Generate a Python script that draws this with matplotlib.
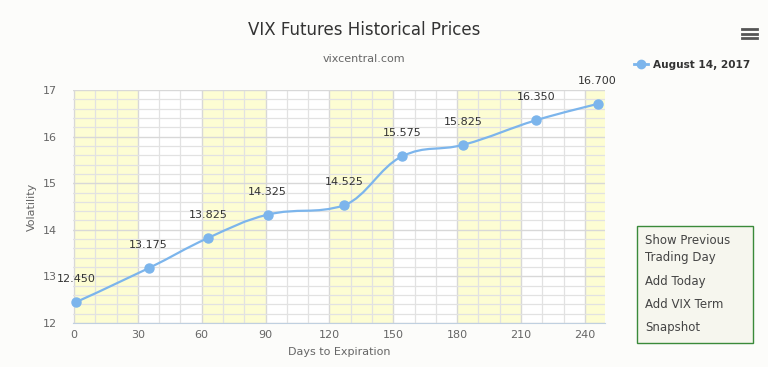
import matplotlib.pyplot as plt
import numpy as np
from matplotlib.path import Path
from matplotlib.patches import PathPatch, FancyBboxPatch

# data
days = [1, 35, 63, 91, 127, 154, 183, 217, 246]
prices = [12.450, 13.175, 13.825, 14.325, 14.525, 15.575, 15.825, 16.350, 16.700]
price_labels = ["12.450", "13.175", "13.825", "14.325", "14.525",
                "15.575", "15.825", "16.350", "16.700"]
series_name = "August 14, 2017"
bands = [(0, 30), (60, 90), (120, 150), (180, 210), (240, 250)]
menu_items = ["Show Previous\nTrading Day", "Add Today", "Add VIX Term", "Snapshot"]

LINE = '#7cb5ec'
TXT = '#333333'
GRAY = '#666666'


def spline_path(xs, ys, smoothing=1.5):
  """
  Bezier path through the points, same rule as a highcharts spline.
  """
  n = len(xs)
  denom = smoothing + 1
  left = [None] * n
  right = [None] * n
  for i in range(1, n - 1):
    x, y = xs[i], ys[i]
    lx = (smoothing * x + xs[i - 1]) / denom
    ly = (smoothing * y + ys[i - 1]) / denom
    rx = (smoothing * x + xs[i + 1]) / denom
    ry = (smoothing * y + ys[i + 1]) / denom
    corr = ((ry - ly) * (rx - x)) / (rx - lx) + y - ry
    ly += corr
    ry += corr
    if ly > ys[i - 1] and ly > y:
      ly = max(ys[i - 1], y)
      ry = 2 * y - ly
    elif ly < ys[i - 1] and ly < y:
      ly = min(ys[i - 1], y)
      ry = 2 * y - ly
    if ry > ys[i + 1] and ry > y:
      ry = max(ys[i + 1], y)
      ly = 2 * y - ry
    elif ry < ys[i + 1] and ry < y:
      ry = min(ys[i + 1], y)
      ly = 2 * y - ry
    left[i] = (lx, ly)
    right[i] = (rx, ry)

  verts = [(xs[0], ys[0])]
  codes = [Path.MOVETO]
  for i in range(1, n):
    c1 = right[i - 1] if right[i - 1] else (xs[i - 1], ys[i - 1])
    c2 = left[i] if left[i] else (xs[i], ys[i])
    verts += [c1, c2, (xs[i], ys[i])]
    codes += [Path.CURVE4] * 3
  return Path(verts, codes)


fig = plt.figure(figsize=(7.68, 3.67), dpi=100)
fig.patch.set_facecolor('#fcfcfa')

W, H = 768, 367
ax = fig.add_axes([73 / W, (H - 323) / H, (605 - 73) / W, (323 - 90) / H])
ax.set_facecolor('white')
ax.set_xlim(-0.5, 249.5)
ax.set_ylim(12, 17)

for a, b in bands:
  ax.axvspan(a, b, color='#fdfdd3', lw=0, zorder=0)

ax.set_xticks(np.arange(0, 241, 30))
ax.set_xticks(np.arange(0, 250, 10), minor=True)
ax.set_yticks(np.arange(12, 17.1, 1))
ax.set_yticks(np.arange(12, 17.01, 0.2), minor=True)
ax.grid(which='major', axis='both', color='#d8d8d8', lw=1, zorder=1)
ax.grid(which='minor', axis='both', color='#e2e2e2', lw=0.9, zorder=1)
ax.set_axisbelow(True)

for s in ['left', 'right', 'top']:
  ax.spines[s].set_visible(False)
ax.spines['bottom'].set_color('#c0d0e0')

ax.tick_params(which='both', length=0, colors=GRAY, labelsize=8)
ax.tick_params(axis='y', pad=11.5)
ax.tick_params(axis='x', pad=5)

ax.add_patch(PathPatch(spline_path(days, prices), fc='none', ec=LINE, lw=1.6,
                       zorder=3, clip_on=False))
ax.plot(days, prices, 'o', color=LINE, ms=6.5, zorder=4, clip_on=False)

for x, y, t in zip(days, prices, price_labels):
  ax.annotate(t, (x, y), xytext=(0, 16.5), textcoords='offset points',
              ha='center', va='center', fontsize=8, color=TXT, zorder=5)

ax.set_xlabel("Days to Expiration", fontsize=8, color=GRAY, labelpad=5)
ax.set_ylabel("Volatility", fontsize=8, color=GRAY, labelpad=4)

fig.text(364 / W, 1 - 30 / H, "VIX Futures Historical Prices", ha='center',
         va='center', fontsize=12, color=TXT)
fig.text(364 / W, 1 - 59 / H, "vixcentral.com", ha='center', va='center',
         fontsize=8, color=GRAY)

# legend
fig.add_artist(plt.Line2D([634 / W, 648 / W], [1 - 64 / H] * 2, color=LINE,
                          lw=2))
fig.add_artist(plt.Line2D([641 / W], [1 - 64 / H], color=LINE, marker='o',
                          ms=6))
fig.text(653 / W, 1 - 64.5 / H, series_name, ha='left', va='center',
         fontsize=7.6, fontweight='bold', color=TXT)

# hamburger menu icon
for dy in [29, 33.5, 38]:
  fig.add_artist(plt.Line2D([742 / W, 757 / W], [1 - dy / H] * 2,
                            color='#555555', lw=2))

# context menu box
fig.add_artist(FancyBboxPatch((637 / W, 1 - 343 / H), 116 / W, 117 / H,
                              boxstyle='square,pad=0', fc='#f6f6ee',
                              ec='#3a8a3a', lw=1, transform=fig.transFigure))
ys_menu = [249, 281, 304, 328]
for t, yy in zip(menu_items, ys_menu):
  fig.text(645 / W, 1 - yy / H, t, ha='left', va='center', fontsize=8.5,
           color='#444444', linespacing=1.5)

fig.savefig('out.png', dpi=100, facecolor=fig.get_facecolor())
